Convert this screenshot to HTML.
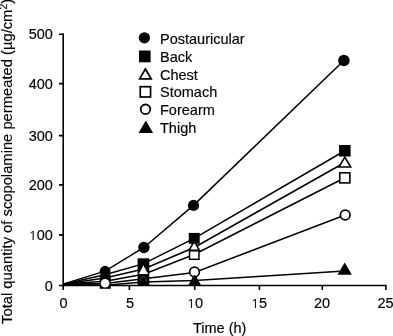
<!DOCTYPE html>
<html><head><meta charset="utf-8">
<style>
html,body{margin:0;padding:0;background:#fff;}
svg{display:block;}
text{font-family:"Liberation Sans",Arial,sans-serif;fill:#000;stroke:#000;stroke-width:0.15px;}
</style></head>
<body>
<svg width="393" height="336" viewBox="0 0 393 336">
<rect width="393" height="336" fill="#fff"/>
<!-- axes -->
<g stroke="#000" stroke-width="1.6" fill="none">
<path d="M63.2 33.4 V286.2 M62.4 285.5 H385.9 V290"/>
<path d="M59 34.2 H63 M59 83.6 H63 M59 135.6 H63 M59 184.9 H63 M59 234.9 H63 M59 285.5 H63"/>
<path d="M63.2 285.5 V290 M129.4 285.5 V290 M194.7 285.5 V290 M259.4 285.5 V290 M322.3 285.5 V290"/>
</g>
<!-- y tick labels -->
<g font-size="14.5" text-anchor="end">
<text x="52.9" y="39.3">500</text>
<text x="52.9" y="88.5">400</text>
<text x="52.9" y="140.6">300</text>
<text x="52.9" y="190">200</text>
<text x="52.9" y="240"><tspan style="font-family:NanumGothic,sans-serif" font-size="13.3">1</tspan>00</text>
<text x="52.9" y="291">0</text>
</g>
<!-- x tick labels -->
<g font-size="14.5" text-anchor="middle">
<text x="63.5" y="308">0</text>
<text x="130" y="308">5</text>
<text x="195" y="308"><tspan style="font-family:NanumGothic,sans-serif" font-size="13.3">1</tspan>0</text>
<text x="259.1" y="308"><tspan style="font-family:NanumGothic,sans-serif" font-size="13.3">1</tspan>5</text>
<text x="322" y="308">20</text>
<text x="385.5" y="308">25</text>
</g>
<text x="193" y="332.6" font-size="14.5">Time (h)</text>
<text transform="translate(12.1,323.9) rotate(-90)" font-size="14.75">Total quantity of scopolamine permeated (µg/cm<tspan font-size="10.5" dy="-4.9">2</tspan><tspan dy="4.9">)</tspan></text>
<!-- legend -->
<g font-size="14.5">
<text x="160" y="43.8">Postauricular</text>
<text x="160" y="61.8">Back</text>
<text x="160" y="79.7">Chest</text>
<text x="160" y="97.3">Stomach</text>
<text x="160" y="115.1">Forearm</text>
<text x="160" y="132.8">Thigh</text>
</g>
<g stroke="#000" stroke-width="1.5">
<circle cx="144.4" cy="37.8" r="5.6" fill="#000" stroke="none"/>
<rect x="139" y="50.5" width="11.6" height="11.8" fill="#000" stroke="none"/>
<path d="M145.4 69 L151.2 78.8 H139.6 Z" fill="#fff" stroke-width="1.7"/>
<rect x="140.25" y="86.7" width="10.3" height="10.3" fill="#fff" stroke-width="1.7"/>
<circle cx="145.5" cy="109.3" r="4.8" fill="#fff" stroke-width="1.8"/>
<path d="M145.8 120.6 L153.1 133.1 H138.5 Z" fill="#000" stroke="none"/>
</g>
<!-- data lines -->
<g stroke="#000" stroke-width="1.5" fill="none">
<polyline points="63.8,283.9 105.1,271.1 143.9,247.5 193.5,205.4 343.9,60.5"/>
<polyline points="63.8,283.9 105,274.7 143.7,263.6 194.2,238.3 344.8,150.75"/>
<polyline points="63.8,283.9 105,278.1 143.7,269 194.2,247.5 344.8,162.5"/>
<polyline points="63.8,283.9 105,281.2 143.7,274.2 194.2,254.5 344.8,177.75"/>
<polyline points="63.8,283.9 105,283.6 143.7,278.7 194.5,272.5 345.2,215"/>
<polyline points="63.8,283.9 105,285.2 143.7,281.9 194.6,280.5 344.7,271"/>
</g>
<!-- markers -->
<g stroke="#000" stroke-width="1.5">
<!-- 3h cluster -->
<rect x="99.75" y="274.5" width="11" height="14.3" fill="#000" stroke="none"/>
<circle cx="105.1" cy="283.3" r="4.3" fill="#fff" stroke="none"/>
<circle cx="105.1" cy="271.2" r="5.4" fill="#000" stroke="none"/>
<!-- 6h cluster -->
<rect x="137.6" y="258.3" width="11.7" height="27" fill="#000" stroke="none"/>
<path d="M143.4 265.6 L148.1 274 H138.7 Z" fill="#fff" stroke="none"/>
<path d="M139.9 281.5 Q141 276.6 143.4 276.4 Q145.8 276.6 146.9 281.5" fill="none" stroke="#6a6a6a" stroke-width="0.7"/>
<circle cx="143.9" cy="247.5" r="5.7" fill="#000" stroke="none"/>
<!-- 10h cluster -->
<path d="M194.6 273.75 L201.25 285.6 H188.1 Z" fill="#000" stroke="none"/>
<circle cx="194.5" cy="272" r="4.85" fill="#fff" stroke-width="1.7"/>
<path d="M194.6 274.5 L197 278.5 H192.2 Z" fill="#000" stroke="none"/>
<rect x="189.55" y="250.8" width="9.4" height="8.5" fill="#fff"/>
<path d="M194.25 240.8 L199.3 250.3 H189.2 Z" fill="#fff" stroke-width="1.6"/>
<rect x="188.76" y="232.9" width="10.94" height="10.9" fill="#000" stroke="none"/>
<circle cx="193.5" cy="205.4" r="5.6" fill="#000" stroke="none"/>
<!-- 22h cluster -->
<path d="M344.7 262.5 L351.9 274.75 H337.5 Z" fill="#000" stroke="none"/>
<circle cx="345.2" cy="215" r="4.85" fill="#fff" stroke-width="1.7"/>
<rect x="339.75" y="172.8" width="10.1" height="10.1" fill="#fff" stroke-width="1.6"/>
<path d="M344.8 157.2 L350.7 167 H338.9 Z" fill="#fff" stroke-width="1.6"/>
<rect x="339" y="145" width="11.6" height="11.5" fill="#000" stroke="none"/>
<circle cx="343.9" cy="60.5" r="5.75" fill="#000" stroke="none"/>
</g>
</svg>
</body></html>
